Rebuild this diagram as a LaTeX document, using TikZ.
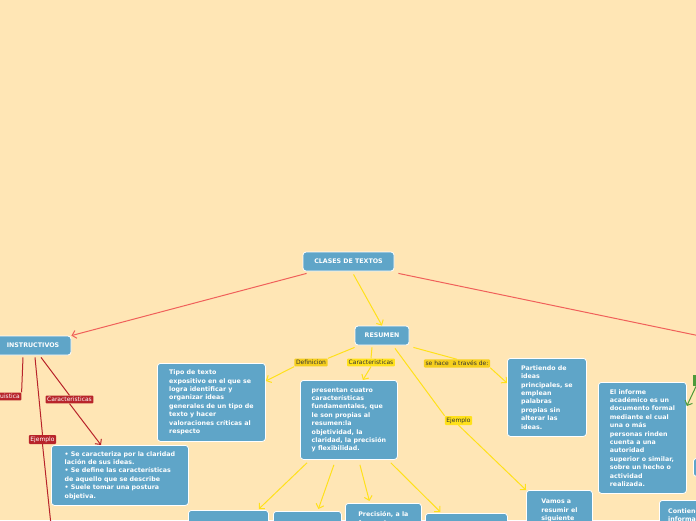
\documentclass[tikz,border=0pt]{standalone}
\usepackage{fontspec}
\setmainfont{DejaVu Sans}
\usetikzlibrary{arrows.meta}
\definecolor{bg}{HTML}{FFE6B5}
\definecolor{boxb}{HTML}{5FA5C8}
\definecolor{ylw}{HTML}{FFE11A}
\definecolor{ylwd}{HTML}{F6CF1E}
\definecolor{redl}{HTML}{F0605A}
\definecolor{redd}{HTML}{B8242A}
\definecolor{grn}{HTML}{4E9A3A}
\tikzset{
  box/.style={draw=white,line width=0.8pt,fill=boxb,rounded corners=3pt,text=white,font=\fontsize{6.3}{8.4}\selectfont\bfseries,align=left,inner sep=0pt,anchor=north west},
  lab/.style={fill=ylwd,rounded corners=1pt,font=\fontsize{6}{6.5}\selectfont,text=black!80,inner sep=1.6pt},
  rlab/.style={fill=redd,rounded corners=1pt,font=\fontsize{6}{6.5}\selectfont,text=white,inner sep=1.6pt},
  ye/.style={draw=ylw,line width=1pt,-{Straight Barb[length=4pt]}},
  yl/.style={draw=ylw,line width=1pt},
  re/.style={draw=redl,line width=1pt,-{Straight Barb[length=4pt]}},
  rd/.style={draw=redd,line width=1pt},
  rde/.style={draw=redd,line width=1pt,-{Straight Barb[length=4pt]}},
}
\begin{document}
\begin{tikzpicture}[x=1pt,y=-1pt]
\useasboundingbox (0,0) rectangle (696,520);
\clip (0,0) rectangle (696,520);
\fill[bg] (0,0) rectangle (696,520);
% main boxes
\node[box,minimum width=91,minimum height=19,anchor=center,align=center] (cl) at (348.5,261.5) {CLASES DE TEXTOS};
\node[box,minimum width=54,minimum height=19,anchor=center,align=center] (res) at (382,335.5) {RESUMEN};
\node[box,minimum width=76,minimum height=19,anchor=center,align=center] (ins) at (33,345.5) {INSTRUCTIVOS};
\node[box,minimum width=108,minimum height=78,inner xsep=7pt,inner ysep=5pt] (tipo) at (157,363) {Tipo de texto\\expositivo en el que se\\logra identificar y\\organizar ideas\\generales de un tipo de\\texto y hacer\\valoraciones críticas al\\respecto};
\node[box,minimum width=97,minimum height=79,inner xsep=7pt,inner ysep=5pt] (pre) at (300,380) {presentan cuatro\\características\\fundamentales, que\\le son propias al\\resumen:la\\objetividad, la\\claridad, la precisión\\y flexibilidad.};
\node[box,minimum width=79,minimum height=78,inner xsep=7pt,inner ysep=5pt] (par) at (507,358) {Partiendo de\\ideas\\principales, se\\emplean\\palabras\\propias sin\\alterar las\\ideas.};
\node[box,minimum width=88,minimum height=111,inner xsep=7pt,inner ysep=5pt] (inf) at (598,382) {El informe\\académico es un\\documento formal\\mediante el cual\\una o más\\personas rinden\\cuenta a una\\autoridad\\superior o similar,\\sobre un hecho o\\actividad\\realizada.};
\node[box,minimum width=137,minimum height=60,inner xsep=7pt,inner ysep=5pt] (sec) at (51,445) {• Se caracteriza por la claridad\\lación de sus ideas.\\• Se define las características\\de aquello que se describe\\• Suele tomar una postura\\objetiva.};
\node[box,minimum width=80,minimum height=30,inner xsep=7pt,inner ysep=5pt] (obj) at (188,510) {Objetividad, se};
\node[box,minimum width=68,minimum height=30,inner xsep=7pt,inner ysep=5pt] (cla) at (273,511) {Claridad, a la};
\node[box,minimum width=76,minimum height=30,inner xsep=7pt,inner ysep=5pt] (prec) at (345,503) {Precisión, a la\\forma de};
\node[box,minimum width=82,minimum height=30] (flex) at (425,513) {};
\node[box,minimum width=66,minimum height=40,inner xsep=7pt,inner ysep=5pt] (vam) at (526,490) {Vamos a\\resumir el\\siguiente};
\node[box,minimum width=60,minimum height=30,inner xsep=7pt,inner ysep=5pt] (con) at (659,500) {Contiene\\información};
\node[box,minimum width=20,minimum height=18] (sm) at (693,458) {};
\node[fill=grn,minimum width=12,minimum height=11,inner sep=0,anchor=north west] (gl) at (693,375) {};
% labels
\node[lab] (ldef) at (311,362.5) {Definicion};
\node[lab,fill=ylw] (lcar) at (371,362.5) {Caracteristicas};
\node[lab] (lse) at (457,363.5) {se hace\ \ a través de:};
\node[lab,fill=ylw] (lej) at (458.5,420.5) {Ejemplo};
\node[rlab] (rl1) at (10,396.5) {uistica};
\node[rlab] (rl2) at (69.5,399.5) {Caracteristicas};
\node[rlab] (rl3) at (42.5,439.5) {Ejemplo};
\coordinate (offr) at (700,336);
\coordinate (offl) at (-8,398);
\coordinate (offd) at (51,525);
% connectors
\draw[re] ([shift={(4,2)}]cl.south west) -- (ins.north east);
\draw[redl,line width=1pt] ([shift={(4,2)}]cl.south east) -- (offr);
\draw[ye] ([shift={(5,3)}]cl.south) -- (res.north);
\draw[yl] ([shift={(0,2)}]res.south west) -- (ldef.north east);
\draw[ye] (ldef.south west) -- ([shift={(0,18)}]tipo.north east);
\draw[yl] ([shift={(-10,2)}]res.south) -- (lcar.north);
\draw[ye] (lcar.south) -- ([shift={(14,0)}]pre.north);
\draw[yl] ([shift={(4,2)}]res.south east) -- (lse.north);
\draw[ye] (lse.south east) -- ([shift={(0,25)}]par.north west);
\draw[yl] ([shift={(13,3)}]res.south) -- (lej.north west);
\draw[ye] (lej.south) -- (vam.north west);
\draw[ye] ([shift={(7,3)}]pre.south west) -- ([shift={(-10,-1)}]obj.north east);
\draw[ye] ([shift={(-15,5)}]pre.south) -- ([shift={(11,-2)}]cla.north);
\draw[ye] ([shift={(11,5)}]pre.south) -- ([shift={(-14,-2)}]prec.north);
\draw[ye] ([shift={(-7,3)}]pre.south east) -- ([shift={(-26,-1)}]flex.north);
\draw[rd] ([shift={(-10,2)}]ins.south) -- (rl1.north east);
\draw[rd] (rl1.south west) -- (offl);
\draw[rd] ([shift={(8,2)}]ins.south) -- (rl2.north);
\draw[rde] (rl2.south) -- ([shift={(50,0)}]sec.north west);
\draw[rd] ([shift={(2,2)}]ins.south) -- (rl3.north);
\draw[rd] (rl3.south) -- (offd);
\draw[draw=grn,line width=1pt,-{Straight Barb[length=4pt]}] ([shift={(3,0)}]gl.south west) -- ([shift={(0,24)}]inf.north east);
\end{tikzpicture}
\end{document}
